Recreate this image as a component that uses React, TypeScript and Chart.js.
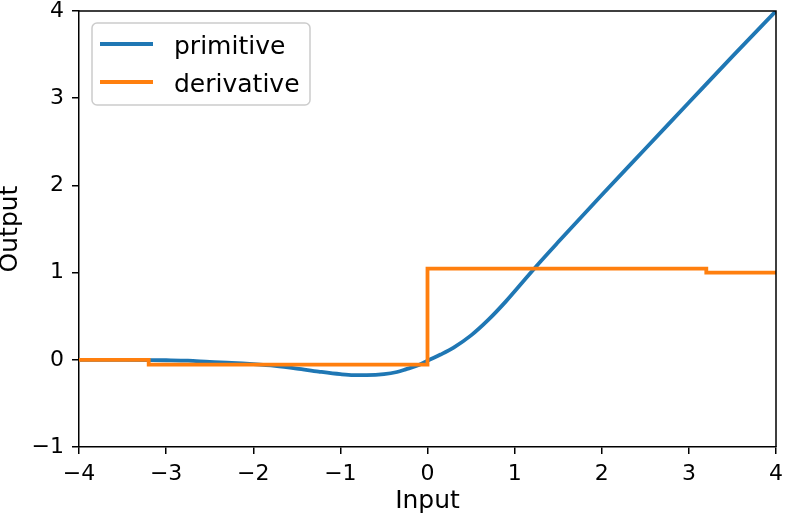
import { useEffect, useRef } from 'react';
import { Chart, registerables } from 'chart.js';

Chart.register(...registerables);

// values
const primitiveX = [-4, -3.5, -3, -2.75, -2.5, -2.25, -2, -1.75, -1.5, -1.25, -1, -0.85, -0.7, -0.5, -0.35, -0.25, -0.1, 0, 0.15, 0.3, 0.5, 0.7, 0.9, 1.1, 1.3, 1.5, 2, 2.5, 3, 3.5, 4];
const primitiveY = [0, 0, -0.005, -0.01, -0.025, -0.035, -0.05, -0.07, -0.1, -0.135, -0.165, -0.175, -0.175, -0.165, -0.14, -0.11, -0.06, -0.01, 0.06, 0.14, 0.28, 0.46, 0.67, 0.9, 1.13, 1.35, 1.89, 2.42, 2.95, 3.48, 4.0];

const derivativeX = [-4, -3.2, -3.2, 0, 0, 3.2, 3.2, 4];
const derivativeY = [0, 0, -0.055, -0.055, 1.045, 1.045, 1.0, 1.0];

const seriesLabels = ['primitive', 'derivative'];
const seriesColors = ['#1f77b4', '#ff7f0e'];

const xTicks = [-4, -3, -2, -1, 0, 1, 2, 3, 4];
const yTicks = [-1, 0, 1, 2, 3, 4];

const FONT = 'DejaVu Sans';

const fmt = (v: number) => (v < 0 ? '\u2212' + Math.abs(v) : String(v));

// top/right spines and the matplotlib-style legend box
const framePlugin = {
  id: 'frame',
  afterDatasetsDraw(chart: any) {
    const { ctx, chartArea } = chart;
    ctx.save();
    ctx.strokeStyle = '#000';
    ctx.lineWidth = 1.5;
    ctx.beginPath();
    ctx.moveTo(chartArea.left, chartArea.top);
    ctx.lineTo(chartArea.right, chartArea.top);
    ctx.lineTo(chartArea.right, chartArea.bottom);
    ctx.stroke();
    ctx.restore();
  },
  afterDraw(chart: any) {
    const { ctx } = chart;
    const bx = 92, by = 23, bw = 218, bh = 82, r = 5;
    ctx.save();
    ctx.beginPath();
    ctx.roundRect(bx, by, bw, bh, r);
    ctx.fillStyle = 'rgba(255,255,255,0.8)';
    ctx.fill();
    ctx.strokeStyle = '#cccccc';
    ctx.lineWidth = 1.5;
    ctx.stroke();
    chart.data.datasets.forEach((ds: any, i: number) => {
      const ly = 44 + i * 38;
      ctx.beginPath();
      ctx.moveTo(100, ly);
      ctx.lineTo(153, ly);
      ctx.strokeStyle = ds.borderColor;
      ctx.lineWidth = 3.8;
      ctx.stroke();
      ctx.fillStyle = '#000';
      ctx.font = `25px "${FONT}"`;
      ctx.textBaseline = 'alphabetic';
      ctx.fillText(ds.label, 174, ly + 10);
    });
    ctx.restore();
  },
};

export default function App() {
  const canvasRef = useRef<HTMLCanvasElement>(null);
  const chartRef = useRef<Chart | null>(null);

  useEffect(() => {
    document.body.style.margin = '0';
    if (!canvasRef.current) return;
    if (chartRef.current) chartRef.current.destroy();

    const tickFont = { family: FONT, size: 22 };
    const titleFont = { family: FONT, size: 25 };

    chartRef.current = new Chart(canvasRef.current, {
      type: 'line',
      data: {
        datasets: [
          {
            label: seriesLabels[0],
            data: primitiveX.map((x, i) => ({ x, y: primitiveY[i] })),
            borderColor: seriesColors[0],
            borderWidth: 3.8,
            pointRadius: 0,
            cubicInterpolationMode: 'monotone',
            fill: false,
            order: 1,
          },
          {
            label: seriesLabels[1],
            data: derivativeX.map((x, i) => ({ x, y: derivativeY[i] })),
            borderColor: seriesColors[1],
            borderWidth: 3.8,
            pointRadius: 0,
            fill: false,
            order: 0,
          },
        ],
      },
      options: {
        responsive: true,
        maintainAspectRatio: false,
        animation: false,
        layout: { padding: { top: 11, right: 9, left: 0, bottom: 0 } },
        plugins: {
          legend: { display: false },
          tooltip: { enabled: false },
        },
        scales: {
          x: {
            type: 'linear',
            min: -4,
            max: 4,
            afterBuildTicks: (s: any) => {
              s.ticks = xTicks.map((v) => ({ value: v }));
            },
            afterFit: (s: any) => {
              s.height = 69;
              s.paddingLeft = 0;
              s.paddingRight = 0;
            },
            ticks: {
              color: '#000',
              font: tickFont,
              padding: 7,
              maxRotation: 0,
              callback: (v: any) => fmt(Number(v)),
            },
            grid: { drawOnChartArea: false, drawTicks: true, tickLength: 7, color: '#000', lineWidth: 1.5 },
            border: { display: true, color: '#000', width: 1.5 },
            title: { display: true, text: 'Input', color: '#000', font: titleFont, padding: 0 },
          },
          y: {
            type: 'linear',
            min: -1,
            max: 4,
            afterBuildTicks: (s: any) => {
              s.ticks = yTicks.map((v) => ({ value: v }));
            },
            afterFit: (s: any) => {
              s.width = 79;
              s.paddingTop = 0;
              s.paddingBottom = 0;
            },
            ticks: {
              color: '#000',
              font: tickFont,
              padding: 8,
              callback: (v: any) => fmt(Number(v)),
            },
            grid: { drawOnChartArea: false, drawTicks: true, tickLength: 7, color: '#000', lineWidth: 1.5 },
            border: { display: true, color: '#000', width: 1.5 },
            title: { display: true, text: 'Output', color: '#000', font: titleFont, padding: { top: -5, bottom: 0 } },
          },
        },
      },
      plugins: [framePlugin],
    });

    return () => {
      if (chartRef.current) {
        chartRef.current.destroy();
        chartRef.current = null;
      }
    };
  }, []);

  return (
    <div style={{ position: 'relative', width: 785, height: 516, background: '#fff' }}>
      <canvas ref={canvasRef}></canvas>
    </div>
  );
}
